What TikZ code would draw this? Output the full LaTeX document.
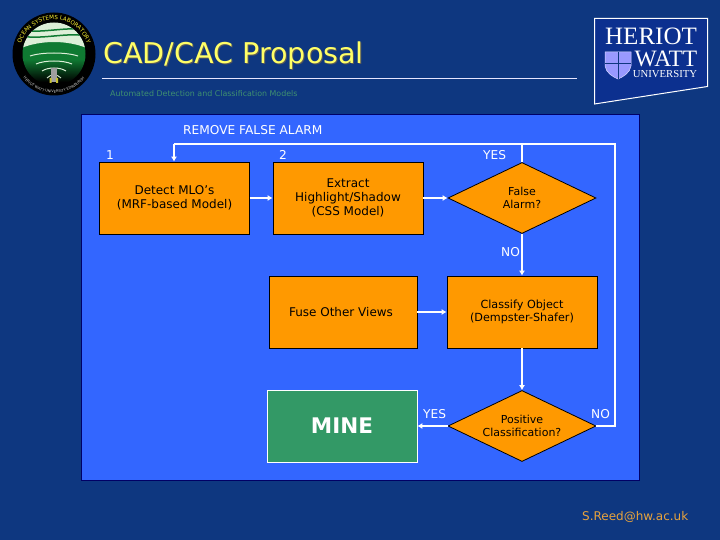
\documentclass[tikz,border=0pt]{standalone}
\usepackage{fontspec}
\setmainfont{DejaVu Sans}
\newfontfamily\serifbold{Liberation Serif}
\usetikzlibrary{shapes.geometric,arrows.meta,decorations.text}
\definecolor{pagebg}{HTML}{0E3780}
\definecolor{panelbg}{HTML}{3366FF}
\definecolor{panelln}{HTML}{000066}
\definecolor{boxor}{HTML}{FF9900}
\definecolor{minegr}{HTML}{339966}
\definecolor{titley}{HTML}{FFFF66}
\definecolor{subgr}{HTML}{3F9070}
\definecolor{mailor}{HTML}{E8A33C}
\definecolor{logogr}{HTML}{0F7A32}
\definecolor{logowh}{HTML}{DDEFD8}
\tikzset{
 procbox/.style={draw=black,line width=0.8pt,fill=boxor,minimum width=150pt,minimum height=72pt,inner sep=0pt,align=center,font=\fontsize{12}{14.3}\selectfont,text=black},
 decbox/.style={draw=black,line width=0.8pt,fill=boxor,inner sep=0pt,align=center,font=\fontsize{11}{13.2}\selectfont,text=black},
 flow/.style={draw=white,line width=1.6pt,-{Latex[length=5pt,width=6pt]}},
 plainflow/.style={draw=white,line width=1.6pt},
 lab/.style={text=white,font=\fontsize{12.2}{14}\selectfont,inner sep=0pt},
}
\begin{document}
\begin{tikzpicture}[x=1pt,y=-1pt]
\useasboundingbox (0,0) rectangle (720,540);
\fill[pagebg] (0,0) rectangle (720,540);
% logo (local frame: centre at origin, y up)
\begin{scope}[x=1pt,y=1pt,shift={(54pt,-54pt)}]
\fill[black] (0,0) circle (41.5);
\begin{scope}
\clip (0,0) circle (31.5);
\shade[top color=logogr,bottom color=black] (-33,-5) rectangle (33,-28);
\fill[logogr] (-33,-5) rectangle (33,12);
\fill[logowh] (-33,33) -- (33,33) -- (33,6) .. controls (12,14) and (-12,14) .. (-33,6) -- cycle;
\foreach \y/\w in {24/1.5,18/1.5}{\draw[logogr,line width=\w pt] (-33,\y) .. controls (-12,\y-4) and (12,\y+4) .. (33,\y);}
\foreach \y/\r/\w in {1/24/1,-7/18/1,-14/12/1,-21/7/0.9}{\draw[logowh,line width=\w pt] (-\r,\y-3) .. controls (-\r/2,\y+1) and (\r/2,\y+1) .. (\r,\y-3);}
\end{scope}
\fill[gray!75] (-3.5,-14) rectangle (3,-28);
\fill[yellow!75!black] (-4.5,-24) rectangle (-2.5,-29) (2,-24) rectangle (4,-29);
\path[postaction={decorate,decoration={text along path,text align=center,text={|\fontsize{5.6}{6}\selectfont\color{yellow!80!white}|OCEAN SYSTEMS LABORATORY}}}] (-34.5,-3) arc[start angle=185,end angle=-5,radius=34.6];
\path[postaction={decorate,decoration={text along path,text align=center,text={|\fontsize{3.6}{4}\selectfont\color{white!80!black}|HERIOT WATT UNIVERSITY EDINBURGH}}}] (-38.4,-5) arc[start angle=187,end angle=353,radius=38.7];
\end{scope}
% title
\node[anchor=base west,inner sep=0pt,text=black!65,font=\fontsize{28.6}{30}\selectfont] (titleshadow) at (104,65) {CAD/CAC Proposal};
\node[anchor=base west,inner sep=0pt,text=titley,font=\fontsize{28.6}{30}\selectfont] (title) at (103,64) {CAD/CAC Proposal};
\draw[white!90!blue,line width=0.6pt] (102,78.5) -- (577,78.5);
\node[anchor=base west,inner sep=0pt,text=subgr,font=\fontsize{7.9}{9}\selectfont] (sub) at (110,97) {Automated Detection and Classification Models};
% HW logo
\draw[white,line width=1pt,fill=pagebg!88!blue] (594.5,18.5) -- (707.5,18.5) -- (707.5,86.5) -- (594.5,104) -- cycle;
\node[anchor=base,inner sep=0pt,text=white,font=\serifbold\fontsize{25}{25}\selectfont] (hw1) at (651,45) {HERIOT};
\node[anchor=base,inner sep=0pt,text=white,font=\serifbold\fontsize{23.5}{24}\selectfont] (hw2) at (666,67) {WATT};
\node[anchor=base,inner sep=0pt,text=white,font=\serifbold\fontsize{10.7}{11}\selectfont] (hw3) at (665,77.5) {UNIVERSITY};
\draw[white!85!blue,fill=white!60!blue,line width=0.5pt] (605,52) -- (631,52) -- (631,66) .. controls (630,73) and (623,77) .. (618,79) .. controls (613,77) and (606,73) .. (605,66) -- cycle;
\draw[pagebg,line width=0.7pt] (618,52) -- (618,79) (605,63) -- (631,63);
% panel
\draw[panelln,line width=1pt,fill=panelbg] (81.5,114.5) rectangle (639.5,480.5);
% nodes
\node[procbox] (detect) at (174.5,198) {Detect MLO's\\(MRF-based Model)};
\node[procbox] (extract) at (348,198) {Extract\\Highlight/Shadow\\(CSS Model)};
\node[procbox,minimum width=148pt] (fuse) at (343,312) {\hspace*{-4pt}Fuse Other Views};
\node[procbox,font=\fontsize{11.2}{13.2}\selectfont] (classify) at (522,312) {Classify Object\\(Dempster-Shafer)};
\node[draw=white,line width=0.8pt,fill=minegr,minimum width=150pt,minimum height=72pt,inner sep=0pt,text=white,font=\bfseries\fontsize{21.5}{24}\selectfont] (mine) at (342,426) {MINE};
\node[decbox,diamond,minimum width=148pt,minimum height=71pt,aspect=2.08] (alarm) at (522,198) {False\\Alarm?};
\node[decbox,diamond,minimum width=148pt,minimum height=71pt,aspect=2.08] (pos) at (522,426) {Positive\\Classification?};
% connectors
\coordinate (topy) at (522,144);
\coordinate (topd) at (174,144);
\coordinate (rgt) at (615,144);
\coordinate (rgb) at (615,426);
\draw[flow] (detect.east) -- (extract.west);
\draw[flow] (extract.east) -- (alarm.west);
\draw[flow] (alarm.south) -- (classify.north);
\draw[flow] (fuse.east) -- (classify.west);
\draw[flow] (classify.south) -- (pos.north);
\draw[flow] (pos.west) -- (mine.east);
\draw[plainflow] (alarm.north) -- (topy);
\draw[plainflow] (pos.east) -- (rgb) -- (rgt) -- (topd);
\draw[flow] (topd) -- (topd |- detect.north);
% labels
\node[lab,anchor=base west] (rfa) at (183,135) {REMOVE FALSE ALARM};
\node[lab,anchor=base west] (n1) at (106,160) {1};
\node[lab,anchor=base west] (n2) at (279,160) {2};
\node[lab,anchor=base west] (ly) at (483,160) {YES};
\node[lab,anchor=base west] (ln) at (501,256) {NO};
\node[lab,anchor=base west] (ly2) at (423,418) {YES};
\node[lab,anchor=base west] (ln2) at (591,418) {NO};
\node[anchor=base west,inner sep=0pt,text=mailor,font=\fontsize{12}{14}\selectfont] (mail) at (582,520) {S.Reed@hw.ac.uk};
\end{tikzpicture}
\end{document}
